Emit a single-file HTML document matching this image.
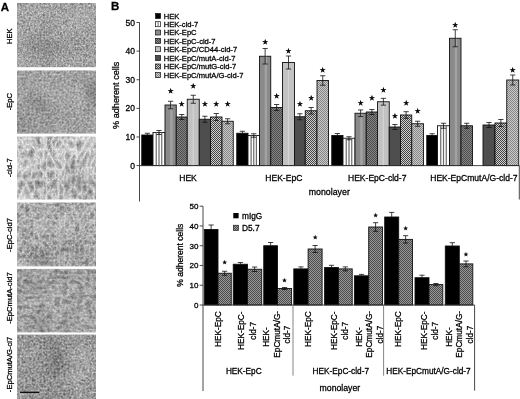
<!DOCTYPE html>
<html lang="en"><head><meta charset="utf-8"><title>Figure</title>
<style>
html,body{margin:0;padding:0;background:#fff;}
body{width:520px;height:399px;overflow:hidden;}
svg{display:block;}
text{font-family:"Liberation Sans","DejaVu Sans",sans-serif;fill:#000;stroke:#000;stroke-width:0.28px;}

.star{stroke:#000;stroke-width:0.5px;font-family:"DejaVu Sans","Liberation Sans",sans-serif;font-size:6px;text-anchor:middle;}
.s2{font-size:4.9px;stroke-width:0.4px;}
</style></head><body>
<svg width="520" height="399" viewBox="0 0 520 399">
<defs>
<pattern id="pStripe" width="4" height="4" patternUnits="userSpaceOnUse"><rect width="4" height="4" fill="#fff"/></pattern>
<pattern id="pGray" width="12" height="4" patternUnits="userSpaceOnUse"><rect width="12" height="4" fill="#8a8a8a"/></pattern>
<pattern id="pDarkDot" width="2" height="2" patternUnits="userSpaceOnUse"><rect width="2" height="2" fill="#848484"/><rect width="1" height="1" fill="#4c4c4c"/><rect x="1" y="1" width="1" height="1" fill="#4c4c4c"/></pattern>
<pattern id="pLight" width="4" height="4" patternUnits="userSpaceOnUse"><rect width="4" height="4" fill="#c2c2c2"/></pattern>
<pattern id="pDark" width="4" height="4" patternUnits="userSpaceOnUse"><rect width="4" height="4" fill="#4e4e4e"/></pattern>
<pattern id="pDot" width="2" height="2" patternUnits="userSpaceOnUse"><rect width="2" height="2" fill="#cfcfcf"/><rect width="1" height="1" fill="#444"/><rect x="1" y="1" width="1" height="1" fill="#444"/></pattern>
<pattern id="pLightDot" width="2" height="2" patternUnits="userSpaceOnUse"><rect width="2" height="2" fill="#cacaca"/><rect width="1" height="1" fill="#858585"/><rect x="1" y="1" width="1" height="1" fill="#858585"/></pattern>
<pattern id="pBot" width="2" height="2" patternUnits="userSpaceOnUse"><rect width="2" height="2" fill="#989898"/><rect width="1" height="1" fill="#4c4c4c"/><rect x="1" y="1" width="1" height="1" fill="#4c4c4c"/></pattern>
<filter id="n1" x="0" y="0" width="100%" height="100%" color-interpolation-filters="sRGB"><feTurbulence type="fractalNoise" baseFrequency="0.55" numOctaves="2" seed="3"/><feColorMatrix type="matrix" values="0.5 0 0 0 0  0.5 0 0 0 0  0.5 0 0 0 0  0 0 0 0 1" result="fine"/><feTurbulence type="fractalNoise" baseFrequency="0.03" numOctaves="2" seed="43"/><feColorMatrix type="matrix" values="0 0.14 0 0 0  0 0.14 0 0 0  0 0.14 0 0 0  0 0 0 0 1" result="coarse"/><feTurbulence type="turbulence" baseFrequency="0.35" numOctaves="2" seed="10"/><feColorMatrix type="matrix" values="-0.25 0 0 0 0.383  -0.25 0 0 0 0.383  -0.25 0 0 0 0.383  0 0 0 0 1" result="web"/><feComposite in="fine" in2="coarse" operator="arithmetic" k1="0" k2="1" k3="1" k4="0" result="fc"/><feComposite in="fc" in2="web" operator="arithmetic" k1="0" k2="1" k3="1" k4="0"/></filter>
<filter id="n2" x="0" y="0" width="100%" height="100%" color-interpolation-filters="sRGB"><feTurbulence type="fractalNoise" baseFrequency="0.5" numOctaves="2" seed="8"/><feColorMatrix type="matrix" values="0.45 0 0 0 0  0.45 0 0 0 0  0.45 0 0 0 0  0 0 0 0 1" result="fine"/><feTurbulence type="fractalNoise" baseFrequency="0.028" numOctaves="2" seed="48"/><feColorMatrix type="matrix" values="0 0.16 0 0 0  0 0.16 0 0 0  0 0.16 0 0 0  0 0 0 0 1" result="coarse"/><feTurbulence type="turbulence" baseFrequency="0.30 0.24" numOctaves="2" seed="15"/><feColorMatrix type="matrix" values="-0.22 0 0 0 0.384  -0.22 0 0 0 0.384  -0.22 0 0 0 0.384  0 0 0 0 1" result="web"/><feComposite in="fine" in2="coarse" operator="arithmetic" k1="0" k2="1" k3="1" k4="0" result="fc"/><feComposite in="fc" in2="web" operator="arithmetic" k1="0" k2="1" k3="1" k4="0"/></filter>
<filter id="n3" x="0" y="0" width="100%" height="100%" color-interpolation-filters="sRGB"><feTurbulence type="fractalNoise" baseFrequency="0.45" numOctaves="2" seed="5"/><feColorMatrix type="matrix" values="0.26 0 0 0 0  0.26 0 0 0 0  0.26 0 0 0 0  0 0 0 0 1" result="fine"/><feTurbulence type="fractalNoise" baseFrequency="0.03" numOctaves="2" seed="45"/><feColorMatrix type="matrix" values="0 0.12 0 0 0  0 0.12 0 0 0  0 0.12 0 0 0  0 0 0 0 1" result="coarse"/><feTurbulence type="turbulence" baseFrequency="0.17 0.10" numOctaves="3" seed="12"/><feColorMatrix type="matrix" values="-0.58 0 0 0 0.722  -0.58 0 0 0 0.722  -0.58 0 0 0 0.722  0 0 0 0 1" result="web"/><feComposite in="fine" in2="coarse" operator="arithmetic" k1="0" k2="1" k3="1" k4="0" result="fc"/><feComposite in="fc" in2="web" operator="arithmetic" k1="0" k2="1" k3="1" k4="0"/></filter>
<filter id="n4" x="0" y="0" width="100%" height="100%" color-interpolation-filters="sRGB"><feTurbulence type="fractalNoise" baseFrequency="0.45" numOctaves="2" seed="11"/><feColorMatrix type="matrix" values="0.4 0 0 0 0  0.4 0 0 0 0  0.4 0 0 0 0  0 0 0 0 1" result="fine"/><feTurbulence type="fractalNoise" baseFrequency="0.03" numOctaves="2" seed="51"/><feColorMatrix type="matrix" values="0 0.14 0 0 0  0 0.14 0 0 0  0 0.14 0 0 0  0 0 0 0 1" result="coarse"/><feTurbulence type="turbulence" baseFrequency="0.20 0.15" numOctaves="2" seed="18"/><feColorMatrix type="matrix" values="-0.4 0 0 0 0.498  -0.4 0 0 0 0.498  -0.4 0 0 0 0.498  0 0 0 0 1" result="web"/><feComposite in="fine" in2="coarse" operator="arithmetic" k1="0" k2="1" k3="1" k4="0" result="fc"/><feComposite in="fc" in2="web" operator="arithmetic" k1="0" k2="1" k3="1" k4="0"/></filter>
<filter id="n5" x="0" y="0" width="100%" height="100%" color-interpolation-filters="sRGB"><feTurbulence type="fractalNoise" baseFrequency="0.4" numOctaves="2" seed="21"/><feColorMatrix type="matrix" values="0.38 0 0 0 0  0.38 0 0 0 0  0.38 0 0 0 0  0 0 0 0 1" result="fine"/><feTurbulence type="fractalNoise" baseFrequency="0.032" numOctaves="2" seed="61"/><feColorMatrix type="matrix" values="0 0.14 0 0 0  0 0.14 0 0 0  0 0.14 0 0 0  0 0 0 0 1" result="coarse"/><feTurbulence type="turbulence" baseFrequency="0.13 0.20" numOctaves="2" seed="28"/><feColorMatrix type="matrix" values="-0.38 0 0 0 0.473  -0.38 0 0 0 0.473  -0.38 0 0 0 0.473  0 0 0 0 1" result="web"/><feComposite in="fine" in2="coarse" operator="arithmetic" k1="0" k2="1" k3="1" k4="0" result="fc"/><feComposite in="fc" in2="web" operator="arithmetic" k1="0" k2="1" k3="1" k4="0"/></filter>
<filter id="n6" x="0" y="0" width="100%" height="100%" color-interpolation-filters="sRGB"><feTurbulence type="fractalNoise" baseFrequency="0.5" numOctaves="2" seed="14"/><feColorMatrix type="matrix" values="0.5 0 0 0 0  0.5 0 0 0 0  0.5 0 0 0 0  0 0 0 0 1" result="fine"/><feTurbulence type="fractalNoise" baseFrequency="0.028" numOctaves="2" seed="54"/><feColorMatrix type="matrix" values="0 0.14 0 0 0  0 0.14 0 0 0  0 0.14 0 0 0  0 0 0 0 1" result="coarse"/><feTurbulence type="turbulence" baseFrequency="0.28" numOctaves="2" seed="21"/><feColorMatrix type="matrix" values="-0.32 0 0 0 0.351  -0.32 0 0 0 0.351  -0.32 0 0 0 0.351  0 0 0 0 1" result="web"/><feComposite in="fine" in2="coarse" operator="arithmetic" k1="0" k2="1" k3="1" k4="0" result="fc"/><feComposite in="fc" in2="web" operator="arithmetic" k1="0" k2="1" k3="1" k4="0"/></filter>
</defs>
<rect width="520" height="399" fill="#fff"/>
<g id="panelA">
<rect x="17" y="3.9" width="78.8" height="63.3" fill="#999" filter="url(#n1)"/>
<rect x="17" y="70.4" width="78.8" height="63.2" fill="#999" filter="url(#n2)"/>
<rect x="17" y="136.5" width="78.8" height="63.1" fill="#999" filter="url(#n3)"/>
<rect x="17" y="202.5" width="78.8" height="63.9" fill="#999" filter="url(#n4)"/>
<rect x="17" y="268.9" width="78.8" height="63.5" fill="#999" filter="url(#n5)"/>
<rect x="17" y="334.6" width="78.8" height="64.4" fill="#999" filter="url(#n6)"/>
<clipPath id="cpA"><rect x="17" y="3.9" width="78.8" height="395.1"/></clipPath>
<filter id="blob" x="-50%" y="-50%" width="200%" height="200%"><feGaussianBlur stdDeviation="4"/></filter>
<g clip-path="url(#cpA)" filter="url(#blob)"><ellipse cx="38" cy="45" rx="15" ry="7" transform="rotate(30 38 45)" fill="#000" opacity="0.1"/><ellipse cx="80" cy="18" rx="14" ry="9" transform="rotate(0 80 18)" fill="#fff" opacity="0.08"/><ellipse cx="36" cy="103" rx="12" ry="6" transform="rotate(15 36 103)" fill="#000" opacity="0.16"/><ellipse cx="93" cy="92" rx="6" ry="8" transform="rotate(0 93 92)" fill="#000" opacity="0.2"/><ellipse cx="22" cy="196" rx="10" ry="7" transform="rotate(0 22 196)" fill="#fff" opacity="0.35"/><ellipse cx="90" cy="142" rx="9" ry="7" transform="rotate(0 90 142)" fill="#fff" opacity="0.3"/><ellipse cx="74" cy="180" rx="12" ry="12" transform="rotate(0 74 180)" fill="#000" opacity="0.1"/><ellipse cx="42" cy="258" rx="14" ry="6" transform="rotate(0 42 258)" fill="#000" opacity="0.17"/><ellipse cx="60" cy="225" rx="25" ry="12" transform="rotate(0 60 225)" fill="#fff" opacity="0.06"/><ellipse cx="36" cy="286" rx="8" ry="7" transform="rotate(0 36 286)" fill="#000" opacity="0.14"/><ellipse cx="38" cy="323" rx="11" ry="6" transform="rotate(0 38 323)" fill="#000" opacity="0.13"/><ellipse cx="57" cy="362" rx="8" ry="13" transform="rotate(0 57 362)" fill="#000" opacity="0.13"/><ellipse cx="80" cy="352" rx="12" ry="9" transform="rotate(0 80 352)" fill="#fff" opacity="0.1"/><ellipse cx="24" cy="346" rx="6" ry="6" transform="rotate(0 24 346)" fill="#000" opacity="0.12"/></g>
<rect x="16" y="67.2" width="81" height="3.2" fill="#fff"/><rect x="16" y="133.6" width="81" height="2.9" fill="#fff"/><rect x="16" y="199.6" width="81" height="2.9" fill="#fff"/><rect x="16" y="266.4" width="81" height="2.5" fill="#fff"/><rect x="16" y="332.4" width="81" height="2.2" fill="#fff"/>
<rect x="20" y="391.7" width="19.3" height="1.2" fill="#000"/>
<text x="0.8" y="10.6" font-size="11.5" font-weight="bold">A</text>
<text transform="translate(12.3,36.2) rotate(-90)" font-size="7.6" text-anchor="middle">HEK</text>
<text transform="translate(12.3,101.7) rotate(-90)" font-size="7.6" text-anchor="middle">-EpC</text>
<text transform="translate(12.3,167.8) rotate(-90)" font-size="7.6" text-anchor="middle">-cld-7</text>
<text transform="translate(12.3,235) rotate(-90)" font-size="7.6" text-anchor="middle">-EpC-cld7</text>
<text transform="translate(12.3,298) rotate(-90)" font-size="7.6" text-anchor="middle">-EpCmutA-cld7</text>
<text transform="translate(12.3,364.5) rotate(-90)" font-size="7.6" text-anchor="middle">-EpCmutA/G-cl7</text>
</g>
<g id="chartTop">
<text x="111" y="10.2" font-size="11.5" font-weight="bold">B</text>
<rect x="141.75" y="135.00" width="11.25" height="30.60" fill="#000" stroke="#111" stroke-width="0.9"/><path d="M147.38 133.25V135.00M144.78 133.25h5.2" stroke="#111" stroke-width="0.8" fill="none"/>
<rect x="153.00" y="132.50" width="12.00" height="33.10" fill="url(#pStripe)" stroke="#111" stroke-width="0.9"/><path d="M156.24 132.50V165.6M159.00 132.50V165.6M161.76 132.50V165.6" stroke="#6c6c6c" stroke-width="1.2" fill="none"/><path d="M159.00 130.50V134.50M156.40 130.50h5.2M156.40 134.50h5.2" stroke="#111" stroke-width="0.8" fill="none"/>
<rect x="165.00" y="105.00" width="11.25" height="60.60" fill="url(#pGray)" stroke="#111" stroke-width="0.9"/><rect x="170.18" y="105.50" width="2.4" height="60.10" fill="#a2a2a2"/><path d="M170.62 101.25V108.75M168.03 101.25h5.2M168.03 108.75h5.2" stroke="#111" stroke-width="0.8" fill="none"/><text class="star" x="170.62" y="92.85">★</text>
<rect x="176.25" y="117.00" width="11.00" height="48.60" fill="url(#pDarkDot)" stroke="#111" stroke-width="0.9"/><path d="M181.75 114.50V119.50M179.15 114.50h5.2M179.15 119.50h5.2" stroke="#111" stroke-width="0.8" fill="none"/><text class="star" x="181.75" y="106.10">★</text>
<rect x="187.25" y="99.25" width="12.00" height="66.35" fill="url(#pLight)" stroke="#111" stroke-width="0.9"/><rect x="192.65" y="99.75" width="1.2" height="65.85" fill="#d4d4d4"/><path d="M193.25 95.25V103.25M190.65 95.25h5.2M190.65 103.25h5.2" stroke="#111" stroke-width="0.8" fill="none"/><text class="star" x="193.25" y="87.85">★</text>
<rect x="199.25" y="119.25" width="11.25" height="46.35" fill="url(#pDark)" stroke="#111" stroke-width="0.9"/><path d="M204.88 116.25V122.25M202.28 116.25h5.2M202.28 122.25h5.2" stroke="#111" stroke-width="0.8" fill="none"/><text class="star" x="204.88" y="106.10">★</text>
<rect x="210.50" y="117.00" width="11.50" height="48.60" fill="url(#pDot)" stroke="#111" stroke-width="0.9"/><path d="M216.25 113.50V120.50M213.65 113.50h5.2M213.65 120.50h5.2" stroke="#111" stroke-width="0.8" fill="none"/><text class="star" x="216.25" y="106.10">★</text>
<rect x="222.00" y="121.25" width="11.25" height="44.35" fill="url(#pLightDot)" stroke="#111" stroke-width="0.9"/><path d="M227.62 118.75V123.75M225.03 118.75h5.2M225.03 123.75h5.2" stroke="#111" stroke-width="0.8" fill="none"/><text class="star" x="227.62" y="106.10">★</text>
<rect x="236.75" y="133.25" width="11.25" height="32.35" fill="#000" stroke="#111" stroke-width="0.9"/><path d="M242.38 131.25V133.25M239.78 131.25h5.2" stroke="#111" stroke-width="0.8" fill="none"/>
<rect x="248.00" y="135.50" width="11.50" height="30.10" fill="url(#pStripe)" stroke="#111" stroke-width="0.9"/><path d="M251.10 135.50V165.6M253.75 135.50V165.6M256.39 135.50V165.6" stroke="#6c6c6c" stroke-width="1.2" fill="none"/><path d="M253.75 133.75V137.25M251.15 133.75h5.2M251.15 137.25h5.2" stroke="#111" stroke-width="0.8" fill="none"/>
<rect x="259.50" y="56.25" width="11.25" height="109.35" fill="url(#pGray)" stroke="#111" stroke-width="0.9"/><rect x="264.68" y="56.75" width="2.4" height="108.85" fill="#a2a2a2"/><path d="M265.12 48.50V64.00M262.52 48.50h5.2M262.52 64.00h5.2" stroke="#111" stroke-width="0.8" fill="none"/><text class="star" x="265.12" y="43.60">★</text>
<rect x="270.75" y="107.50" width="11.75" height="58.10" fill="url(#pDarkDot)" stroke="#111" stroke-width="0.9"/><path d="M276.62 104.50V110.50M274.02 104.50h5.2M274.02 110.50h5.2" stroke="#111" stroke-width="0.8" fill="none"/><text class="star" x="276.62" y="97.85">★</text>
<rect x="282.50" y="62.50" width="12.00" height="103.10" fill="url(#pLight)" stroke="#111" stroke-width="0.9"/><rect x="287.90" y="63.00" width="1.2" height="102.60" fill="#d4d4d4"/><path d="M288.50 56.00V69.00M285.90 56.00h5.2M285.90 69.00h5.2" stroke="#111" stroke-width="0.8" fill="none"/><text class="star" x="288.50" y="52.85">★</text>
<rect x="294.50" y="116.75" width="10.75" height="48.85" fill="url(#pDark)" stroke="#111" stroke-width="0.9"/><path d="M299.88 113.75V119.75M297.27 113.75h5.2M297.27 119.75h5.2" stroke="#111" stroke-width="0.8" fill="none"/><text class="star" x="299.88" y="105.85">★</text>
<rect x="305.25" y="110.75" width="11.75" height="54.85" fill="url(#pDot)" stroke="#111" stroke-width="0.9"/><path d="M311.12 107.50V114.00M308.52 107.50h5.2M308.52 114.00h5.2" stroke="#111" stroke-width="0.8" fill="none"/><text class="star" x="311.12" y="100.35">★</text>
<rect x="317.00" y="80.50" width="11.50" height="85.10" fill="url(#pLightDot)" stroke="#111" stroke-width="0.9"/><path d="M322.75 75.75V85.25M320.15 75.75h5.2M320.15 85.25h5.2" stroke="#111" stroke-width="0.8" fill="none"/><text class="star" x="322.75" y="71.60">★</text>
<rect x="331.75" y="135.50" width="11.25" height="30.10" fill="#000" stroke="#111" stroke-width="0.9"/><path d="M337.38 133.50V135.50M334.77 133.50h5.2" stroke="#111" stroke-width="0.8" fill="none"/>
<rect x="343.00" y="138.25" width="12.00" height="27.35" fill="url(#pStripe)" stroke="#111" stroke-width="0.9"/><path d="M346.24 138.25V165.6M349.00 138.25V165.6M351.76 138.25V165.6" stroke="#6c6c6c" stroke-width="1.2" fill="none"/><path d="M349.00 136.75V139.75M346.40 136.75h5.2M346.40 139.75h5.2" stroke="#111" stroke-width="0.8" fill="none"/>
<rect x="355.00" y="113.25" width="11.25" height="52.35" fill="url(#pGray)" stroke="#111" stroke-width="0.9"/><rect x="360.18" y="113.75" width="2.4" height="51.85" fill="#a2a2a2"/><path d="M360.62 109.95V116.55M358.02 109.95h5.2M358.02 116.55h5.2" stroke="#111" stroke-width="0.8" fill="none"/><text class="star" x="360.62" y="104.85">★</text>
<rect x="366.25" y="112.00" width="11.25" height="53.60" fill="url(#pDarkDot)" stroke="#111" stroke-width="0.9"/><path d="M371.88 109.50V114.50M369.27 109.50h5.2M369.27 114.50h5.2" stroke="#111" stroke-width="0.8" fill="none"/><text class="star" x="371.88" y="99.85">★</text>
<rect x="377.50" y="101.75" width="11.75" height="63.85" fill="url(#pLight)" stroke="#111" stroke-width="0.9"/><rect x="382.79" y="102.25" width="1.2" height="63.35" fill="#d4d4d4"/><path d="M383.38 98.35V105.15M380.77 98.35h5.2M380.77 105.15h5.2" stroke="#111" stroke-width="0.8" fill="none"/><text class="star" x="383.38" y="91.60">★</text>
<rect x="389.25" y="127.00" width="11.25" height="38.60" fill="url(#pDark)" stroke="#111" stroke-width="0.9"/><path d="M394.88 124.50V129.50M392.27 124.50h5.2M392.27 129.50h5.2" stroke="#111" stroke-width="0.8" fill="none"/><text class="star" x="394.88" y="117.85">★</text>
<rect x="400.50" y="115.00" width="11.25" height="50.60" fill="url(#pDot)" stroke="#111" stroke-width="0.9"/><path d="M406.12 111.70V118.30M403.52 111.70h5.2M403.52 118.30h5.2" stroke="#111" stroke-width="0.8" fill="none"/><text class="star" x="406.12" y="104.60">★</text>
<rect x="411.75" y="123.75" width="11.75" height="41.85" fill="url(#pLightDot)" stroke="#111" stroke-width="0.9"/><path d="M417.62 121.25V126.25M415.02 121.25h5.2M415.02 126.25h5.2" stroke="#111" stroke-width="0.8" fill="none"/><text class="star" x="417.62" y="112.85">★</text>
<rect x="426.75" y="135.50" width="10.75" height="30.10" fill="#000" stroke="#111" stroke-width="0.9"/><path d="M432.12 133.75V135.50M429.52 133.75h5.2" stroke="#111" stroke-width="0.8" fill="none"/>
<rect x="437.50" y="125.75" width="12.00" height="39.85" fill="url(#pStripe)" stroke="#111" stroke-width="0.9"/><path d="M440.74 125.75V165.6M443.50 125.75V165.6M446.26 125.75V165.6" stroke="#6c6c6c" stroke-width="1.2" fill="none"/><path d="M443.50 123.25V128.25M440.90 123.25h5.2M440.90 128.25h5.2" stroke="#111" stroke-width="0.8" fill="none"/>
<rect x="449.50" y="38.25" width="11.50" height="127.35" fill="url(#pGray)" stroke="#111" stroke-width="0.9"/><rect x="454.79" y="38.75" width="2.4" height="126.85" fill="#a2a2a2"/><path d="M455.25 29.75V46.75M452.65 29.75h5.2M452.65 46.75h5.2" stroke="#111" stroke-width="0.8" fill="none"/><text class="star" x="455.25" y="26.60">★</text>
<rect x="461.00" y="125.75" width="11.50" height="39.85" fill="url(#pDarkDot)" stroke="#111" stroke-width="0.9"/><path d="M466.75 123.25V128.25M464.15 123.25h5.2M464.15 128.25h5.2" stroke="#111" stroke-width="0.8" fill="none"/>
<rect x="483.00" y="125.00" width="12.00" height="40.60" fill="url(#pDark)" stroke="#111" stroke-width="0.9"/><path d="M489.00 122.50V127.50M486.40 122.50h5.2M486.40 127.50h5.2" stroke="#111" stroke-width="0.8" fill="none"/>
<rect x="495.00" y="123.00" width="11.75" height="42.60" fill="url(#pDot)" stroke="#111" stroke-width="0.9"/><path d="M500.88 119.50V126.50M498.27 119.50h5.2M498.27 126.50h5.2" stroke="#111" stroke-width="0.8" fill="none"/>
<rect x="506.75" y="80.00" width="12.00" height="85.60" fill="url(#pLightDot)" stroke="#111" stroke-width="0.9"/><path d="M512.75 75.00V85.00M510.15 75.00h5.2M510.15 85.00h5.2" stroke="#111" stroke-width="0.8" fill="none"/><text class="star" x="512.75" y="71.60">★</text>
<path d="M139.5 22.5V201.5M139.5 165.6H519.3M519.3 165.6V199.5" stroke="#333" stroke-width="0.9" fill="none"/>
<path d="M136.5 165.60H139.5" stroke="#333" stroke-width="0.9"/><text x="135" y="168.60" font-size="8.5" text-anchor="end">0</text>
<path d="M136.5 136.98H139.5" stroke="#333" stroke-width="0.9"/><text x="135" y="139.98" font-size="8.5" text-anchor="end">10</text>
<path d="M136.5 108.36H139.5" stroke="#333" stroke-width="0.9"/><text x="135" y="111.36" font-size="8.5" text-anchor="end">20</text>
<path d="M136.5 79.74H139.5" stroke="#333" stroke-width="0.9"/><text x="135" y="82.74" font-size="8.5" text-anchor="end">30</text>
<path d="M136.5 51.12H139.5" stroke="#333" stroke-width="0.9"/><text x="135" y="54.12" font-size="8.5" text-anchor="end">40</text>
<path d="M136.5 22.50H139.5" stroke="#333" stroke-width="0.9"/><text x="135" y="25.50" font-size="8.5" text-anchor="end">50</text>
<text transform="translate(119.3,95.3) rotate(-90)" font-size="9.1" text-anchor="middle">% adherent cells</text>
<rect x="155.6" y="13.50" width="5" height="5" fill="#000" stroke="#111" stroke-width="0.7"/><text x="163.7" y="18.80" font-size="7.6">HEK</text>
<rect x="155.6" y="21.70" width="5" height="5" fill="url(#pStripe)" stroke="#111" stroke-width="0.7"/><text x="163.7" y="27.00" font-size="7.6">HEK-cld-7</text><path d="M158.1 21.70v5" stroke="#6c6c6c" stroke-width="1"/>
<rect x="155.6" y="30.00" width="5" height="5" fill="url(#pGray)" stroke="#111" stroke-width="0.7"/><text x="163.7" y="35.30" font-size="7.6">HEK-EpC</text>
<rect x="155.6" y="38.40" width="5" height="5" fill="url(#pDarkDot)" stroke="#111" stroke-width="0.7"/><text x="163.7" y="43.70" font-size="7.6">HEK-EpC-cld-7</text>
<rect x="155.6" y="46.70" width="5" height="5" fill="url(#pLight)" stroke="#111" stroke-width="0.7"/><text x="163.7" y="52.00" font-size="7.6">HEK-EpC/CD44-cld-7</text>
<rect x="155.6" y="55.60" width="5" height="5" fill="url(#pDark)" stroke="#111" stroke-width="0.7"/><text x="163.7" y="60.90" font-size="7.6">HEK-EpC/mutA-cld-7</text>
<rect x="155.6" y="64.00" width="5" height="5" fill="url(#pDot)" stroke="#111" stroke-width="0.7"/><text x="163.7" y="69.30" font-size="7.6">HEK-EpC/mutG-cld-7</text>
<rect x="155.6" y="72.60" width="5" height="5" fill="url(#pLightDot)" stroke="#111" stroke-width="0.7"/><text x="163.7" y="77.90" font-size="7.6">HEK-EpC/mutA/G-cld-7</text>
<text x="188" y="181.3" font-size="8.55" text-anchor="middle">HEK</text>
<text x="283.8" y="181.3" font-size="8.55" text-anchor="middle">HEK-EpC</text>
<text x="377.2" y="181.3" font-size="8.55" text-anchor="middle">HEK-EpC-cld-7</text>
<text x="473.9" y="181.3" font-size="8.55" text-anchor="middle">HEK-EpCmutA/G-cld-7</text>
<text x="329.3" y="195" font-size="8.8" text-anchor="middle">monolayer</text>
</g>
<g id="chartBottom">
<rect x="204.25" y="229.50" width="13.75" height="75.50" fill="#000" stroke="#111" stroke-width="0.9"/><path d="M211.12 225.00V229.50M208.53 225.00h5.2" stroke="#111" stroke-width="0.8" fill="none"/>
<rect x="218.00" y="273.25" width="13.25" height="31.75" fill="url(#pBot)" stroke="#111" stroke-width="0.9"/><path d="M224.62 271.25V275.25M222.03 271.25h5.2M222.03 275.25h5.2" stroke="#111" stroke-width="0.8" fill="none"/><text class="star s2" x="224.62" y="264.10">★</text>
<rect x="233.25" y="264.25" width="14.25" height="40.75" fill="#000" stroke="#111" stroke-width="0.9"/><path d="M240.38 262.50V264.25M237.78 262.50h5.2" stroke="#111" stroke-width="0.8" fill="none"/>
<rect x="247.50" y="269.25" width="14.25" height="35.75" fill="url(#pBot)" stroke="#111" stroke-width="0.9"/><path d="M254.62 267.00V271.50M252.03 267.00h5.2M252.03 271.50h5.2" stroke="#111" stroke-width="0.8" fill="none"/>
<rect x="263.75" y="245.75" width="13.75" height="59.25" fill="#000" stroke="#111" stroke-width="0.9"/><path d="M270.62 242.50V245.75M268.02 242.50h5.2" stroke="#111" stroke-width="0.8" fill="none"/>
<rect x="277.50" y="288.50" width="14.10" height="16.50" fill="url(#pBot)" stroke="#111" stroke-width="0.9"/><path d="M284.55 287.50V289.50M281.95 287.50h5.2M281.95 289.50h5.2" stroke="#111" stroke-width="0.8" fill="none"/><text class="star s2" x="284.55" y="281.60">★</text>
<rect x="293.80" y="268.90" width="14.30" height="36.10" fill="#000" stroke="#111" stroke-width="0.9"/><path d="M300.95 266.90V268.90M298.35 266.90h5.2" stroke="#111" stroke-width="0.8" fill="none"/>
<rect x="308.10" y="249.00" width="14.00" height="56.00" fill="url(#pBot)" stroke="#111" stroke-width="0.9"/><path d="M315.10 245.50V252.50M312.50 245.50h5.2M312.50 252.50h5.2" stroke="#111" stroke-width="0.8" fill="none"/><text class="star s2" x="315.10" y="238.80">★</text>
<rect x="324.60" y="267.50" width="13.80" height="37.50" fill="#000" stroke="#111" stroke-width="0.9"/><path d="M331.50 265.30V267.50M328.90 265.30h5.2" stroke="#111" stroke-width="0.8" fill="none"/>
<rect x="338.40" y="268.90" width="13.80" height="36.10" fill="url(#pBot)" stroke="#111" stroke-width="0.9"/><path d="M345.30 266.90V270.90M342.70 266.90h5.2M342.70 270.90h5.2" stroke="#111" stroke-width="0.8" fill="none"/>
<rect x="354.40" y="275.80" width="14.30" height="29.20" fill="#000" stroke="#111" stroke-width="0.9"/><path d="M361.55 274.40V275.80M358.95 274.40h5.2" stroke="#111" stroke-width="0.8" fill="none"/>
<rect x="368.70" y="227.00" width="13.80" height="78.00" fill="url(#pBot)" stroke="#111" stroke-width="0.9"/><path d="M375.60 222.70V231.30M373.00 222.70h5.2M373.00 231.30h5.2" stroke="#111" stroke-width="0.8" fill="none"/><text class="star s2" x="375.60" y="217.30">★</text>
<rect x="384.70" y="217.00" width="14.00" height="88.00" fill="#000" stroke="#111" stroke-width="0.9"/><path d="M391.70 212.40V217.00M389.10 212.40h5.2" stroke="#111" stroke-width="0.8" fill="none"/>
<rect x="398.70" y="239.40" width="13.80" height="65.60" fill="url(#pBot)" stroke="#111" stroke-width="0.9"/><path d="M405.60 235.70V243.10M403.00 235.70h5.2M403.00 243.10h5.2" stroke="#111" stroke-width="0.8" fill="none"/><text class="star s2" x="405.60" y="230.00">★</text>
<rect x="415.00" y="277.70" width="14.00" height="27.30" fill="#000" stroke="#111" stroke-width="0.9"/><path d="M422.00 275.20V277.70M419.40 275.20h5.2" stroke="#111" stroke-width="0.8" fill="none"/>
<rect x="429.00" y="284.60" width="13.80" height="20.40" fill="url(#pBot)" stroke="#111" stroke-width="0.9"/><path d="M435.90 283.50V285.70M433.30 283.50h5.2M433.30 285.70h5.2" stroke="#111" stroke-width="0.8" fill="none"/>
<rect x="445.30" y="246.00" width="14.00" height="59.00" fill="#000" stroke="#111" stroke-width="0.9"/><path d="M452.30 242.70V246.00M449.70 242.70h5.2" stroke="#111" stroke-width="0.8" fill="none"/>
<rect x="459.30" y="263.90" width="13.50" height="41.10" fill="url(#pBot)" stroke="#111" stroke-width="0.9"/><path d="M466.05 261.00V266.80M463.45 261.00h5.2M463.45 266.80h5.2" stroke="#111" stroke-width="0.8" fill="none"/><text class="star s2" x="466.05" y="255.90">★</text>
<path d="M203 206.2V391M203 305.0H474.6M474.6 305.0V390.6" stroke="#333" stroke-width="0.9" fill="none"/>
<path d="M293 305.0V375.7M383.6 305.0V375.7" stroke="#666" stroke-width="0.8" fill="none"/>
<path d="M199.7 305.00H203" stroke="#333" stroke-width="0.9"/><text x="198.4" y="307.90" font-size="8" text-anchor="end">0</text>
<path d="M199.7 285.24H203" stroke="#333" stroke-width="0.9"/><text x="198.4" y="288.14" font-size="8" text-anchor="end">10</text>
<path d="M199.7 265.48H203" stroke="#333" stroke-width="0.9"/><text x="198.4" y="268.38" font-size="8" text-anchor="end">20</text>
<path d="M199.7 245.72H203" stroke="#333" stroke-width="0.9"/><text x="198.4" y="248.62" font-size="8" text-anchor="end">30</text>
<path d="M199.7 225.96H203" stroke="#333" stroke-width="0.9"/><text x="198.4" y="228.86" font-size="8" text-anchor="end">40</text>
<path d="M199.7 206.20H203" stroke="#333" stroke-width="0.9"/><text x="198.4" y="209.10" font-size="8" text-anchor="end">50</text>
<text transform="translate(183,255.2) rotate(-90)" font-size="8.56" text-anchor="middle">% adherent cells</text>
<rect x="233.3" y="213" width="5.3" height="5.3" fill="#000"/><text x="242" y="218.6" font-size="8.3">mIgG</text>
<rect x="233.3" y="225.2" width="5.3" height="5.3" fill="url(#pBot)" stroke="#111" stroke-width="0.6"/><text x="242" y="230.8" font-size="8.3">D5.7</text>
<text transform="translate(221.20,329.2) rotate(-90)" font-size="8.25" text-anchor="middle">HEK-EpC</text>
<text transform="translate(244.20,330.8) rotate(-90)" font-size="8.25" text-anchor="middle">HEK-EpC-</text>
<text transform="translate(255.80,330.8) rotate(-90)" font-size="8.25" text-anchor="middle">cld-7</text>
<text transform="translate(269.20,337) rotate(-90)" font-size="8.25" text-anchor="middle">HEK-</text>
<text transform="translate(279.90,334.3) rotate(-90)" font-size="8.25" text-anchor="middle">EpCmutA/G-</text>
<text transform="translate(290.40,334.6) rotate(-90)" font-size="8.25" text-anchor="middle">cld-7</text>
<text transform="translate(311.40,329.2) rotate(-90)" font-size="8.25" text-anchor="middle">HEK-EpC</text>
<text transform="translate(336.70,330.8) rotate(-90)" font-size="8.25" text-anchor="middle">HEK-EpC-</text>
<text transform="translate(347.90,330.8) rotate(-90)" font-size="8.25" text-anchor="middle">cld-7</text>
<text transform="translate(361.80,337) rotate(-90)" font-size="8.25" text-anchor="middle">HEK-</text>
<text transform="translate(372.20,334.3) rotate(-90)" font-size="8.25" text-anchor="middle">EpCmutA/G-</text>
<text transform="translate(382.65,334.6) rotate(-90)" font-size="8.25" text-anchor="middle">cld-7</text>
<text transform="translate(401.40,329.2) rotate(-90)" font-size="8.25" text-anchor="middle">HEK-EpC</text>
<text transform="translate(427.00,330.8) rotate(-90)" font-size="8.25" text-anchor="middle">HEK-EpC-</text>
<text transform="translate(437.90,330.8) rotate(-90)" font-size="8.25" text-anchor="middle">cld-7</text>
<text transform="translate(451.80,337) rotate(-90)" font-size="8.25" text-anchor="middle">HEK-</text>
<text transform="translate(462.20,334.3) rotate(-90)" font-size="8.25" text-anchor="middle">EpCmutA/G-</text>
<text transform="translate(472.90,334.6) rotate(-90)" font-size="8.25" text-anchor="middle">cld-7</text>
<text x="243.8" y="374.3" font-size="8.25" text-anchor="middle">HEK-EpC</text>
<text x="340.8" y="374.3" font-size="8.25" text-anchor="middle">HEK-EpC-cld-7</text>
<text x="428.5" y="374.3" font-size="8.25" text-anchor="middle">HEK-EpCmutA/G-cld-7</text>
<text x="339.9" y="390.5" font-size="8.7" text-anchor="middle">monolayer</text>
</g>
</svg>
</body></html>
